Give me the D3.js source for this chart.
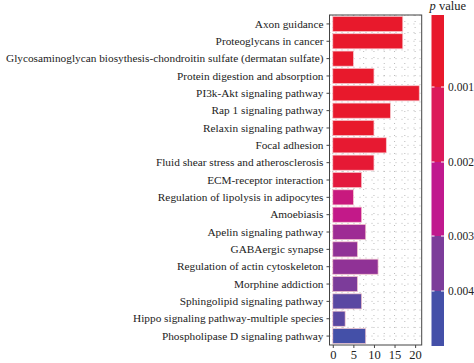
<!DOCTYPE html>
<html>
<head>
<meta charset="utf-8">
<script src="https://cdn.jsdelivr.net/npm/d3@7"></script>
<style>
  body { margin: 0; background: #fff; }
  svg text { font-family: "Liberation Serif", "DejaVu Serif", serif; fill: #222; }
</style>
</head>
<body>
<div id="chart"></div>
<script>
// pathways, top to bottom
const pathways = [
  "Axon guidance",
  "Proteoglycans in cancer",
  "Glycosaminoglycan biosythesis-chondroitin sulfate (dermatan sulfate)",
  "Protein digestion and absorption",
  "PI3k-Akt signaling pathway",
  "Rap 1 signaling pathway",
  "Relaxin signaling pathway",
  "Focal adhesion",
  "Fluid shear stress and atherosclerosis",
  "ECM-receptor interaction",
  "Regulation of lipolysis in adipocytes",
  "Amoebiasis",
  "Apelin signaling pathway",
  "GABAergic synapse",
  "Regulation of actin cytoskeleton",
  "Morphine addiction",
  "Sphingolipid signaling pathway",
  "Hippo signaling pathway-multiple species",
  "Phospholipase D signaling pathway"
];
// gene counts
const counts = [17, 17, 5, 10, 21, 14, 10, 13, 10, 7, 5, 7, 8, 6, 11, 6, 7, 3, 8];
// p values
const pvalues = [0.00001, 0.00002, 0.0001, 0.0002, 0.0002, 0.0003, 0.0004, 0.0006, 0.0007, 0.0009,
                 0.0022, 0.0024, 0.003, 0.0032, 0.0032, 0.0035, 0.0041, 0.0041, 0.0046];
const xTicks = [0, 5, 10, 15, 20];
const legendBreaks = [0.001, 0.002, 0.003, 0.004];
const bandColors = ["#e8192c", "#dc1a5a", "#c0198e", "#7c3c9a", "#4450a8"];

const width = 474, height = 363;
const panel = { left: 329.5, right: 421.7, top: 15, bottom: 345 };

const svg = d3.select("#chart").append("svg")
  .attr("width", width).attr("height", height);

const x = d3.scaleLinear().domain([-0.8, 21.6]).range([panel.left, panel.right]);
const y = d3.scaleBand().domain(pathways).range([panel.top, panel.bottom]).paddingInner(0.13).paddingOuter(0.08);

// bar colour follows p value, interpolated between legend band colours
const color = d3.scaleLinear()
  .domain([0.0005, 0.0015, 0.0025, 0.0035, 0.0045])
  .range(bandColors)
  .clamp(true);

// dotted grid
const grid = svg.append("g").attr("stroke", "#aaa").attr("stroke-width", 0.8).attr("stroke-dasharray", "1,5");
d3.range(0, 22.5, 2.5).forEach(v => {
  grid.append("line").attr("x1", x(v)).attr("x2", x(v)).attr("y1", panel.top).attr("y2", panel.bottom);
});
pathways.forEach(p => {
  const cy = y(p) + y.bandwidth() / 2;
  grid.append("line").attr("x1", panel.left).attr("x2", panel.right).attr("y1", cy).attr("y2", cy);
  const gy = y(p) - y.step() * y.paddingInner() / 2;
  grid.append("line").attr("x1", panel.left).attr("x2", panel.right).attr("y1", gy).attr("y2", gy);
});

// bars
svg.append("g").selectAll("rect")
  .data(pathways)
  .join("rect")
  .attr("x", x(0))
  .attr("y", d => y(d))
  .attr("width", (d, i) => x(counts[i]) - x(0))
  .attr("height", y.bandwidth())
  .attr("fill", (d, i) => color(pvalues[i]))
  .attr("stroke", "#f7c6cc")
  .attr("stroke-width", 0.7);

// panel frame
svg.append("rect")
  .attr("x", panel.left).attr("y", panel.top)
  .attr("width", panel.right - panel.left).attr("height", panel.bottom - panel.top)
  .attr("fill", "none").attr("stroke", "#444").attr("stroke-width", 1);

// y axis
const yAxis = svg.append("g")
  .attr("transform", `translate(${panel.left},0)`)
  .call(d3.axisLeft(y).tickSize(3).tickPadding(3));
yAxis.select(".domain").remove();
yAxis.selectAll(".tick line").attr("stroke", "#444");
yAxis.selectAll("text").style("font-size", "11.3px").attr("fill", "#222");

// x axis
const xAxis = svg.append("g")
  .attr("transform", `translate(0,${panel.bottom})`)
  .call(d3.axisBottom(x).tickValues(xTicks).tickSize(3).tickPadding(2));
xAxis.select(".domain").remove();
xAxis.selectAll(".tick line").attr("stroke", "#444");
xAxis.selectAll("text").style("font-size", "12.5px").attr("fill", "#222");

// colour legend (stepped bar)
const lg = { x: 431.5, w: 12.5, top: 15, bottom: 346 };
const ly = d3.scaleLinear()
  .domain([0, 0.001, 0.002, 0.003, 0.004, 0.005])
  .range([lg.top, 87, 162, 236, 291, lg.bottom]);
const bandEdges = [0, ...legendBreaks, 0.005];
svg.append("g").selectAll("rect")
  .data(bandColors)
  .join("rect")
  .attr("x", lg.x)
  .attr("y", (d, i) => ly(bandEdges[i]))
  .attr("width", lg.w)
  .attr("height", (d, i) => ly(bandEdges[i + 1]) - ly(bandEdges[i]))
  .attr("fill", d => d);

const lt = svg.append("g");
legendBreaks.forEach(b => {
  lt.append("line")
    .attr("x1", lg.x).attr("x2", lg.x + 3).attr("y1", ly(b)).attr("y2", ly(b))
    .attr("stroke", "#fff").attr("stroke-width", 1);
  lt.append("line")
    .attr("x1", lg.x + lg.w - 3).attr("x2", lg.x + lg.w).attr("y1", ly(b)).attr("y2", ly(b))
    .attr("stroke", "#fff").attr("stroke-width", 1);
  lt.append("text")
    .attr("x", lg.x + lg.w + 4).attr("y", ly(b)).attr("dy", "0.35em")
    .style("font-size", "11.5px")
    .text(d3.format(".3f")(b));
});

const title = svg.append("text").attr("x", lg.x - 2).attr("y", 10).style("font-size", "12.5px");
title.append("tspan").style("font-style", "italic").text("p");
title.append("tspan").text(" value");
</script>
</body>
</html>
